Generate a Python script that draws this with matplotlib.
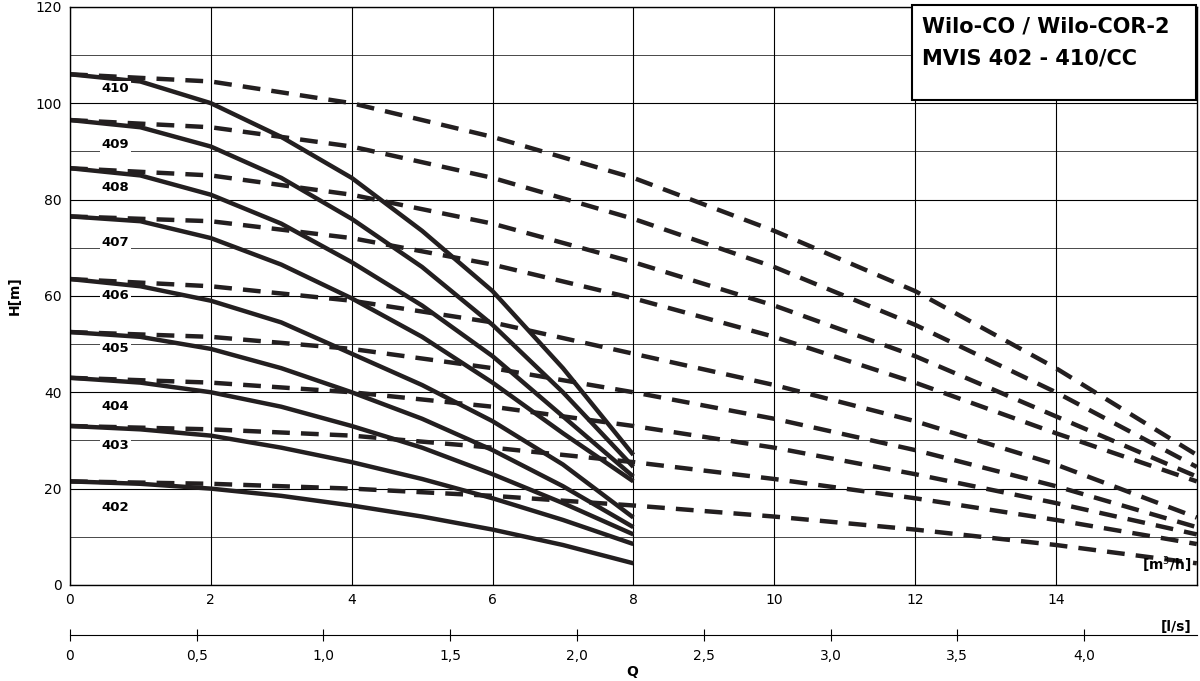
import matplotlib.pyplot as plt
import numpy as np
from matplotlib.patches import Rectangle

# flow points [m3/h] for one pump (solid) and two pumps (dashed)
q_single = [0, 1, 2, 3, 4, 5, 6, 7, 8]
q_double = [0, 2, 4, 6, 8, 10, 12, 14, 16]

pumps = ["410", "409", "408", "407", "406", "405", "404", "403", "402"]
heads = [
    [106, 104.5, 100, 93, 84.5, 73.5, 61, 45, 27],
    [96.5, 95, 91, 84.5, 76, 66, 54, 40, 24.5],
    [86.5, 85, 81, 75, 67, 58, 47.5, 35, 22.5],
    [76.5, 75.5, 72, 66.5, 59.5, 51.5, 42, 31.5, 21.5],
    [63.5, 62, 59, 54.5, 48, 41.5, 34, 25, 14],
    [52.5, 51.5, 49, 45, 40, 34.5, 28, 20.5, 12],
    [43, 42, 40, 37, 33, 28.5, 23, 17, 10.5],
    [33, 32.3, 31, 28.5, 25.5, 22, 18, 13.5, 8.5],
    [21.5, 21, 20, 18.5, 16.5, 14.2, 11.5, 8.3, 4.5],
]
label_y = [103, 91.5, 82.5, 71, 60, 49, 37, 29, 16]

fig = plt.figure(figsize=(12, 6.81), dpi=100)
ax = fig.add_axes([0.0583, 0.141, 0.939, 0.849])
ax.set_xlim(0, 16)
ax.set_ylim(0, 120)
ax.set_xticks(np.arange(0, 15, 2))
ax.set_yticks(np.arange(0, 121, 20))
ax.set_yticks(np.arange(10, 120, 20), minor=True)
ax.tick_params(axis='y', which='minor', length=0)
ax.grid(which='major', color='black', lw=0.8)
ax.grid(which='minor', axis='y', color='black', lw=0.5)
ax.tick_params(labelsize=10, length=0, pad=6)
for s in ax.spines.values():
    s.set_linewidth(1)

for name, h, ly in zip(pumps, heads, label_y):
    ax.plot(q_single, h, color='#231f20', lw=3.2, solid_capstyle='butt')
    ax.plot(q_double, h, color='#231f20', lw=3.2, ls=(0, (4, 2.5)))
    ax.text(0.45, ly, name, fontsize=9.5, fontweight='bold', va='center',
            bbox=dict(facecolor='white', edgecolor='none', pad=1))

ax.text(15.93, 2, "[m$^3$/h]", ha='right', va='bottom', fontsize=10, fontweight='bold')
ax.set_ylabel("H[m]", fontsize=10, fontweight='bold', labelpad=10)

# title box
fig.patches.append(Rectangle((912 / 1200, 1 - 100 / 681), 284 / 1200, 95 / 681,
                             transform=fig.transFigure, facecolor='white',
                             edgecolor='black', lw=1.5, zorder=5))
fig.text(922 / 1200, 1 - 27 / 681, "Wilo-CO / Wilo-COR-2", fontsize=15, fontweight='bold',
         va='center', ha='left', zorder=6)
fig.text(922 / 1200, 1 - 58 / 681, "MVIS 402 - 410/CC", fontsize=15, fontweight='bold',
         va='center', ha='left', zorder=6)

ax2 = fig.add_axes([0.0583, 0.0675, 0.939, 0.0001])
ax2.set_xlim(0, 16 / 3.6)
ax2.set_yticks([])
for k in ['top', 'left', 'right']:
    ax2.spines[k].set_visible(False)
ls_ticks = np.arange(0, 4.01, 0.5)
ax2.set_xticks(ls_ticks)
ax2.set_xticklabels(["0"] + [f"{v:.1f}".replace('.', ',') for v in ls_ticks[1:]])
ax2.tick_params(axis='x', labelsize=10, direction='inout', length=8, pad=6)
fig.text(1192 / 1200, 1 - 627 / 681, "[l/s]", ha='right', va='center', fontsize=10,
         fontweight='bold')
fig.text(632 / 1200, 1 - 672 / 681, "Q", ha='center', va='center', fontsize=10,
         fontweight='bold')

fig.savefig("out.png", dpi=100)
